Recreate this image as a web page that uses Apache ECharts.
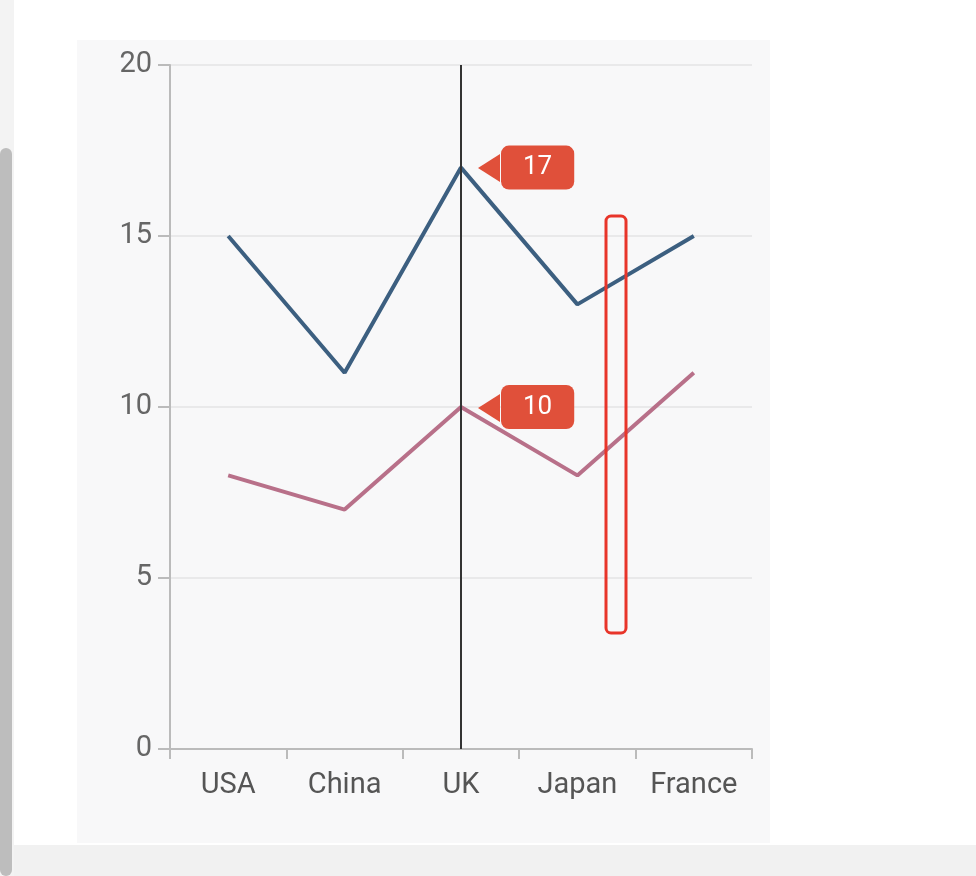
<!DOCTYPE html>
<html>
<head>
<meta charset="UTF-8">
<style>html,body{margin:0;padding:0;background:#fff}#main{width:976px;height:876px}</style>
<script src="https://cdn.jsdelivr.net/npm/echarts@6/dist/echarts.min.js"></script>
</head>
<body>
<div id="main"></div>
<script>
var categories = ["USA", "China", "UK", "Japan", "France"];
var seriesA = [15, 11, 17, 13, 15];
var seriesB = [8, 7, 10, 8, 11];
var yTicks = [0, 5, 10, 15, 20];
var highlightIndex = 2;

var chart = echarts.init(document.getElementById("main"));

function callout(values) {
  return {
    silent: true, symbol: "rect", symbolSize: 0,
    label: {
      show: true, position: "right", distance: 40,
      color: "#fff", fontSize: 26, fontFamily: "Roboto",
      backgroundColor: "#e0503a", borderRadius: 8,
      padding: [10, 22, 8, 22],
      formatter: function (p) { return p.value; }
    },
    data: [{ coord: [highlightIndex, values[highlightIndex]], value: values[highlightIndex] }]
  };
}

chart.setOption({
  animation: false,
  graphic: [
    { type: "rect", z: -10, shape: { x: 77, y: 40, width: 693, height: 803 }, style: { fill: "#f8f8f9" } },
    { type: "rect", z: -10, shape: { x: 0, y: 845, width: 976, height: 31 }, style: { fill: "#f1f1f1" } },
    { type: "rect", z: -10, shape: { x: 0, y: 0, width: 14, height: 876 }, style: { fill: "#f3f3f3" } },
    { type: "rect", z: -9, shape: { x: 0, y: 148, width: 12, height: 728, r: 6 }, style: { fill: "#bdbdbd" } },
    { type: "polygon", z: 100, shape: { points: [[478, 168], [500, 154], [500, 182]] }, style: { fill: "#e0503a" } },
    { type: "polygon", z: 100, shape: { points: [[478, 408], [500, 394], [500, 422]] }, style: { fill: "#e0503a" } },
    { type: "rect", z: 100, shape: { x: 606, y: 216, width: 20, height: 417, r: 5 }, style: { fill: "none", stroke: "#e8352a", lineWidth: 3 } }
  ],
  grid: { left: 170, right: 224, top: 65, bottom: 127 },
  xAxis: {
    type: "category", data: categories, boundaryGap: true,
    axisLine: { lineStyle: { color: "#bbb", width: 2 } },
    axisTick: { show: true, interval: 0, length: 10, lineStyle: { color: "#bbb", width: 2 } },
    axisLabel: { interval: 0, color: "#555", fontSize: 29, fontFamily: "Roboto", margin: 22 }
  },
  yAxis: {
    type: "value", min: 0, max: 20, interval: 5,
    axisLine: { show: true, lineStyle: { color: "#bbb", width: 2 } },
    axisTick: { show: true, length: 12, lineStyle: { color: "#bbb", width: 2 } },
    splitLine: { lineStyle: { color: "#e4e4e4", width: 1.5 } },
    axisLabel: { color: "#666", fontSize: 29, fontFamily: "Roboto", margin: 18,
      formatter: function (v) { return yTicks.indexOf(v) >= 0 ? v : ""; } }
  },
  series: [
    {
      type: "line", data: seriesA, symbol: "none",
      lineStyle: { color: "#3c5f80", width: 4 }, itemStyle: { color: "#3c5f80" },
      markPoint: callout(seriesA),
      markLine: {
        silent: true, symbol: "none", label: { show: false },
        lineStyle: { color: "#333", width: 2, type: "solid" },
        data: [{ xAxis: categories[highlightIndex] }]
      }
    },
    {
      type: "line", data: seriesB, symbol: "none",
      lineStyle: { color: "#b87089", width: 4 }, itemStyle: { color: "#b87089" },
      markPoint: callout(seriesB)
    }
  ]
});
</script>
</body>
</html>
